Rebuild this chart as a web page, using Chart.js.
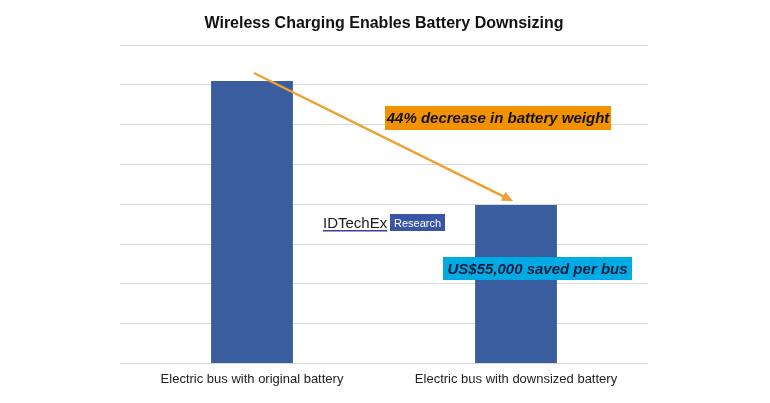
<!DOCTYPE html>
<html>
<head>
<meta charset="utf-8">
<script src="https://cdn.jsdelivr.net/npm/chart.js@4.4.0/dist/chart.umd.min.js"></script>
<style>
  html, body { margin: 0; padding: 0; background: #fff; }
  #wrap { width: 770px; height: 403px; }
</style>
</head>
<body>
<div id="wrap"><canvas id="chart" width="770" height="403"></canvas></div>
<script>
// chart data
const categories = ['Electric bus with original battery', 'Electric bus with downsized battery'];
const batteryWeight = [7.1, 3.98];
const decreaseLabel = '44% decrease in battery weight';
const savingLabel = 'US$55,000 saved per bus';

const FONT = '"Liberation Sans", Arial, sans-serif';

// draws the arrow, the two callout boxes and the logo
const annotations = {
  id: 'annotations',
  afterDatasetsDraw(chart) {
    const ctx = chart.ctx;
    const x = chart.scales.x, y = chart.scales.y;
    const area = chart.chartArea;
    ctx.save();

    // orange arrow from bar 1 to bar 2
    const x0 = x.getPixelForValue(0) + 2, y0 = y.getPixelForValue(batteryWeight[0]) - 8;
    const x1 = x.getPixelForValue(1) - 3, y1 = y.getPixelForValue(batteryWeight[1]) - 4;
    const ang = Math.atan2(y1 - y0, x1 - x0);
    ctx.strokeStyle = '#F0A02E';
    ctx.fillStyle = '#F0A02E';
    ctx.lineWidth = 2.5;
    ctx.beginPath();
    ctx.moveTo(x0, y0);
    ctx.lineTo(x1 - 8 * Math.cos(ang), y1 - 8 * Math.sin(ang));
    ctx.stroke();
    ctx.beginPath();
    ctx.moveTo(x1, y1);
    ctx.lineTo(x1 - 11 * Math.cos(ang) + 5 * Math.sin(ang), y1 - 11 * Math.sin(ang) - 5 * Math.cos(ang));
    ctx.lineTo(x1 - 11 * Math.cos(ang) - 5 * Math.sin(ang), y1 - 11 * Math.sin(ang) + 5 * Math.cos(ang));
    ctx.closePath();
    ctx.fill();

    // callout boxes
    function box(text, left, top, w, h, bg, fg) {
      ctx.fillStyle = bg;
      ctx.fillRect(left, top, w, h);
      ctx.fillStyle = fg;
      ctx.font = 'italic bold 15px ' + FONT;
      ctx.textAlign = 'center';
      ctx.textBaseline = 'middle';
      ctx.fillText(text, left + w / 2, top + h / 2 + 1);
    }
    box(decreaseLabel, area.left + 265, 106, 226, 24, '#F39200', '#111');
    box(savingLabel, area.left + 323, 257, 189, 23, '#00ABE3', '#0D1B3E');

    // IDTechEx logo
    ctx.font = '15px ' + FONT;
    ctx.textAlign = 'left';
    ctx.textBaseline = 'alphabetic';
    ctx.fillStyle = '#1a1a1a';
    ctx.fillText('IDTechEx', 323, 228);
    const w = ctx.measureText('IDTechEx').width;
    ctx.fillStyle = '#2E4A8C';
    ctx.fillRect(323, 230, w, 1.5);
    ctx.fillStyle = '#3A55A4';
    ctx.fillRect(390, 214, 55, 17);
    ctx.fillStyle = '#fff';
    ctx.font = '11px ' + FONT;
    ctx.fillText('Research', 394, 227);

    ctx.restore();
  }
};

new Chart(document.getElementById('chart'), {
  type: 'bar',
  data: {
    labels: categories,
    datasets: [{
      data: batteryWeight,
      backgroundColor: '#3A5DA0',
      categoryPercentage: 1,
      barPercentage: 0.31
    }]
  },
  options: {
    responsive: false,
    animation: false,
    layout: { padding: { left: 120, right: 122, top: 0, bottom: 16 } },
    plugins: {
      legend: { display: false },
      tooltip: { enabled: false },
      title: {
        display: true,
        text: 'Wireless Charging Enables Battery Downsizing',
        color: '#111',
        font: { family: FONT, size: 16, weight: 'bold' },
        padding: { top: 14, bottom: 12 }
      }
    },
    scales: {
      y: {
        min: 0,
        max: 8,
        ticks: { display: false, stepSize: 1 },
        grid: { color: '#D9D9D9', lineWidth: 1, drawTicks: false },
        border: { display: false }
      },
      x: {
        grid: { display: false },
        border: { display: false },
        ticks: { color: '#222', font: { family: FONT, size: 13 }, padding: 0 }
      }
    }
  },
  plugins: [annotations]
});
</script>
</body>
</html>
